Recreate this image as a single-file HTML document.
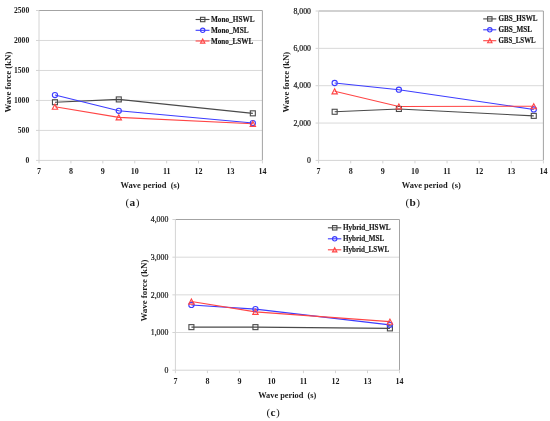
<!DOCTYPE html>
<html><head><meta charset="utf-8"><title>Wave force charts</title>
<style>
html,body{margin:0;padding:0;background:#fff;}
body{width:550px;height:421px;overflow:hidden;font-family:"Liberation Serif", serif;}
svg{display:block;font-family:"Liberation Serif", serif;filter:blur(0.35px);}
</style></head><body>
<svg width="550" height="421" viewBox="0 0 550 421">
<rect width="550" height="421" fill="#fff"/>
<line x1="39.00" y1="130.42" x2="262.40" y2="130.42" stroke="#d9d9d9" stroke-width="1"/>
<line x1="39.00" y1="100.44" x2="262.40" y2="100.44" stroke="#d9d9d9" stroke-width="1"/>
<line x1="39.00" y1="70.46" x2="262.40" y2="70.46" stroke="#d9d9d9" stroke-width="1"/>
<line x1="39.00" y1="40.48" x2="262.40" y2="40.48" stroke="#d9d9d9" stroke-width="1"/>
<path d="M39.00 10.50 H262.40 V160.40" fill="none" stroke="#a3a3a3" stroke-width="1"/>
<line x1="39.00" y1="10.50" x2="39.00" y2="160.40" stroke="#d4d4d4" stroke-width="1"/>
<line x1="39.00" y1="160.40" x2="262.40" y2="160.40" stroke="#d4d4d4" stroke-width="1"/>
<line x1="36.00" y1="160.40" x2="39.00" y2="160.40" stroke="#d4d4d4" stroke-width="1"/>
<text x="29.20" y="163.10" text-anchor="end" font-size="7.6" font-weight="bold" fill="#1a1a1a">0</text>
<line x1="36.00" y1="130.42" x2="39.00" y2="130.42" stroke="#d4d4d4" stroke-width="1"/>
<text x="29.20" y="133.12" text-anchor="end" font-size="7.6" font-weight="bold" fill="#1a1a1a">500</text>
<line x1="36.00" y1="100.44" x2="39.00" y2="100.44" stroke="#d4d4d4" stroke-width="1"/>
<text x="29.20" y="103.14" text-anchor="end" font-size="7.6" font-weight="bold" fill="#1a1a1a">1000</text>
<line x1="36.00" y1="70.46" x2="39.00" y2="70.46" stroke="#d4d4d4" stroke-width="1"/>
<text x="29.20" y="73.16" text-anchor="end" font-size="7.6" font-weight="bold" fill="#1a1a1a">1500</text>
<line x1="36.00" y1="40.48" x2="39.00" y2="40.48" stroke="#d4d4d4" stroke-width="1"/>
<text x="29.20" y="43.18" text-anchor="end" font-size="7.6" font-weight="bold" fill="#1a1a1a">2000</text>
<line x1="36.00" y1="10.50" x2="39.00" y2="10.50" stroke="#d4d4d4" stroke-width="1"/>
<text x="29.20" y="13.20" text-anchor="end" font-size="7.6" font-weight="bold" fill="#1a1a1a">2500</text>
<line x1="39.00" y1="160.40" x2="39.00" y2="163.40" stroke="#d4d4d4" stroke-width="1"/>
<text x="39.00" y="174.00" text-anchor="middle" font-size="8.0" font-weight="bold" fill="#1a1a1a">7</text>
<line x1="70.91" y1="160.40" x2="70.91" y2="163.40" stroke="#d4d4d4" stroke-width="1"/>
<text x="70.91" y="174.00" text-anchor="middle" font-size="8.0" font-weight="bold" fill="#1a1a1a">8</text>
<line x1="102.83" y1="160.40" x2="102.83" y2="163.40" stroke="#d4d4d4" stroke-width="1"/>
<text x="102.83" y="174.00" text-anchor="middle" font-size="8.0" font-weight="bold" fill="#1a1a1a">9</text>
<line x1="134.74" y1="160.40" x2="134.74" y2="163.40" stroke="#d4d4d4" stroke-width="1"/>
<text x="134.74" y="174.00" text-anchor="middle" font-size="8.0" font-weight="bold" fill="#1a1a1a">10</text>
<line x1="166.66" y1="160.40" x2="166.66" y2="163.40" stroke="#d4d4d4" stroke-width="1"/>
<text x="166.66" y="174.00" text-anchor="middle" font-size="8.0" font-weight="bold" fill="#1a1a1a">11</text>
<line x1="198.57" y1="160.40" x2="198.57" y2="163.40" stroke="#d4d4d4" stroke-width="1"/>
<text x="198.57" y="174.00" text-anchor="middle" font-size="8.0" font-weight="bold" fill="#1a1a1a">12</text>
<line x1="230.49" y1="160.40" x2="230.49" y2="163.40" stroke="#d4d4d4" stroke-width="1"/>
<text x="230.49" y="174.00" text-anchor="middle" font-size="8.0" font-weight="bold" fill="#1a1a1a">13</text>
<line x1="262.40" y1="160.40" x2="262.40" y2="163.40" stroke="#d4d4d4" stroke-width="1"/>
<text x="262.40" y="174.00" text-anchor="middle" font-size="8.0" font-weight="bold" fill="#1a1a1a">14</text>
<polyline points="54.96,102.24 118.79,99.42 252.83,113.33" fill="none" stroke="#4a4a4a" stroke-width="1.1"/>
<polyline points="54.96,95.04 118.79,110.81 252.83,123.04" fill="none" stroke="#3c3cff" stroke-width="1.1"/>
<polyline points="54.96,106.74 118.79,117.35 252.83,123.82" fill="none" stroke="#ff4545" stroke-width="1.1"/>
<rect x="52.46" y="99.74" width="5.00" height="5.00" fill="none" stroke="#4a4a4a" stroke-width="1.1"/>
<rect x="116.29" y="96.92" width="5.00" height="5.00" fill="none" stroke="#4a4a4a" stroke-width="1.1"/>
<rect x="250.33" y="110.83" width="5.00" height="5.00" fill="none" stroke="#4a4a4a" stroke-width="1.1"/>
<circle cx="54.96" cy="95.04" r="2.60" fill="none" stroke="#3c3cff" stroke-width="1.1"/>
<circle cx="118.79" cy="110.81" r="2.60" fill="none" stroke="#3c3cff" stroke-width="1.1"/>
<circle cx="252.83" cy="123.04" r="2.60" fill="none" stroke="#3c3cff" stroke-width="1.1"/>
<path d="M54.96 104.17 L57.66 109.30 L52.26 109.30 Z" fill="none" stroke="#ff4545" stroke-width="1.1" stroke-linejoin="miter"/>
<path d="M118.79 114.78 L121.49 119.91 L116.09 119.91 Z" fill="none" stroke="#ff4545" stroke-width="1.1" stroke-linejoin="miter"/>
<path d="M252.83 121.26 L255.53 126.39 L250.13 126.39 Z" fill="none" stroke="#ff4545" stroke-width="1.1" stroke-linejoin="miter"/>
<line x1="195.60" y1="19.50" x2="209.50" y2="19.50" stroke="#4a4a4a" stroke-width="1.1"/>
<rect x="200.50" y="17.30" width="4.40" height="4.40" fill="none" stroke="#4a4a4a" stroke-width="1.1"/>
<text x="211.00" y="22.00" font-size="7.2" font-weight="bold" fill="#1a1a1a" stroke="#1a1a1a" stroke-width="0.15" textLength="43.50" lengthAdjust="spacingAndGlyphs">Mono_HSWL</text>
<line x1="195.60" y1="30.30" x2="209.50" y2="30.30" stroke="#3c3cff" stroke-width="1.1"/>
<circle cx="202.70" cy="30.30" r="2.20" fill="none" stroke="#3c3cff" stroke-width="1.1"/>
<text x="211.00" y="32.80" font-size="7.2" font-weight="bold" fill="#1a1a1a" stroke="#1a1a1a" stroke-width="0.15" textLength="37.60" lengthAdjust="spacingAndGlyphs">Mono_MSL</text>
<line x1="195.60" y1="41.00" x2="209.50" y2="41.00" stroke="#ff4545" stroke-width="1.1"/>
<path d="M202.70 38.91 L204.90 43.09 L200.50 43.09 Z" fill="none" stroke="#ff4545" stroke-width="1.1" stroke-linejoin="miter"/>
<text x="211.00" y="43.50" font-size="7.2" font-weight="bold" fill="#1a1a1a" stroke="#1a1a1a" stroke-width="0.15" textLength="42.20" lengthAdjust="spacingAndGlyphs">Mono_LSWL</text>
<text x="120.60" y="187.50" font-size="8.6" font-weight="bold" fill="#1a1a1a" textLength="59.00" lengthAdjust="spacingAndGlyphs" xml:space="preserve">Wave period  (s)</text>
<text transform="translate(11.10,112.50) rotate(-90)" x="0" y="0" font-size="8.6" font-weight="bold" fill="#1a1a1a" textLength="60.80" lengthAdjust="spacingAndGlyphs">Wave force (kN)</text>
<text x="125.40" y="205.70" font-size="11.3" fill="#1a1a1a" letter-spacing="0.45">(<tspan font-weight="bold">a</tspan>)</text>
<line x1="318.60" y1="123.05" x2="543.40" y2="123.05" stroke="#d9d9d9" stroke-width="1"/>
<line x1="318.60" y1="85.70" x2="543.40" y2="85.70" stroke="#d9d9d9" stroke-width="1"/>
<line x1="318.60" y1="48.35" x2="543.40" y2="48.35" stroke="#d9d9d9" stroke-width="1"/>
<path d="M318.60 11.00 H543.40 V160.40" fill="none" stroke="#a3a3a3" stroke-width="1"/>
<line x1="318.60" y1="11.00" x2="318.60" y2="160.40" stroke="#d4d4d4" stroke-width="1"/>
<line x1="318.60" y1="160.40" x2="543.40" y2="160.40" stroke="#d4d4d4" stroke-width="1"/>
<line x1="315.60" y1="160.40" x2="318.60" y2="160.40" stroke="#d4d4d4" stroke-width="1"/>
<text x="311.00" y="163.10" text-anchor="end" font-size="7.8" font-weight="normal" fill="#1a1a1a" stroke="#1a1a1a" stroke-width="0.22">0</text>
<line x1="315.60" y1="123.05" x2="318.60" y2="123.05" stroke="#d4d4d4" stroke-width="1"/>
<text x="311.00" y="125.75" text-anchor="end" font-size="7.8" font-weight="normal" fill="#1a1a1a" stroke="#1a1a1a" stroke-width="0.22">2,000</text>
<line x1="315.60" y1="85.70" x2="318.60" y2="85.70" stroke="#d4d4d4" stroke-width="1"/>
<text x="311.00" y="88.40" text-anchor="end" font-size="7.8" font-weight="normal" fill="#1a1a1a" stroke="#1a1a1a" stroke-width="0.22">4,000</text>
<line x1="315.60" y1="48.35" x2="318.60" y2="48.35" stroke="#d4d4d4" stroke-width="1"/>
<text x="311.00" y="51.05" text-anchor="end" font-size="7.8" font-weight="normal" fill="#1a1a1a" stroke="#1a1a1a" stroke-width="0.22">6,000</text>
<line x1="315.60" y1="11.00" x2="318.60" y2="11.00" stroke="#d4d4d4" stroke-width="1"/>
<text x="311.00" y="13.70" text-anchor="end" font-size="7.8" font-weight="normal" fill="#1a1a1a" stroke="#1a1a1a" stroke-width="0.22">8,000</text>
<line x1="318.60" y1="160.40" x2="318.60" y2="163.40" stroke="#d4d4d4" stroke-width="1"/>
<text x="318.60" y="174.00" text-anchor="middle" font-size="8.0" font-weight="bold" fill="#1a1a1a">7</text>
<line x1="350.71" y1="160.40" x2="350.71" y2="163.40" stroke="#d4d4d4" stroke-width="1"/>
<text x="350.71" y="174.00" text-anchor="middle" font-size="8.0" font-weight="bold" fill="#1a1a1a">8</text>
<line x1="382.83" y1="160.40" x2="382.83" y2="163.40" stroke="#d4d4d4" stroke-width="1"/>
<text x="382.83" y="174.00" text-anchor="middle" font-size="8.0" font-weight="bold" fill="#1a1a1a">9</text>
<line x1="414.94" y1="160.40" x2="414.94" y2="163.40" stroke="#d4d4d4" stroke-width="1"/>
<text x="414.94" y="174.00" text-anchor="middle" font-size="8.0" font-weight="bold" fill="#1a1a1a">10</text>
<line x1="447.06" y1="160.40" x2="447.06" y2="163.40" stroke="#d4d4d4" stroke-width="1"/>
<text x="447.06" y="174.00" text-anchor="middle" font-size="8.0" font-weight="bold" fill="#1a1a1a">11</text>
<line x1="479.17" y1="160.40" x2="479.17" y2="163.40" stroke="#d4d4d4" stroke-width="1"/>
<text x="479.17" y="174.00" text-anchor="middle" font-size="8.0" font-weight="bold" fill="#1a1a1a">12</text>
<line x1="511.29" y1="160.40" x2="511.29" y2="163.40" stroke="#d4d4d4" stroke-width="1"/>
<text x="511.29" y="174.00" text-anchor="middle" font-size="8.0" font-weight="bold" fill="#1a1a1a">13</text>
<line x1="543.40" y1="160.40" x2="543.40" y2="163.40" stroke="#d4d4d4" stroke-width="1"/>
<text x="543.40" y="174.00" text-anchor="middle" font-size="8.0" font-weight="bold" fill="#1a1a1a">14</text>
<polyline points="334.66,111.77 398.89,108.97 533.77,115.86" fill="none" stroke="#4a4a4a" stroke-width="1.1"/>
<polyline points="334.66,83.01 398.89,89.70 533.77,109.47" fill="none" stroke="#3c3cff" stroke-width="1.1"/>
<polyline points="334.66,91.30 398.89,106.47 533.77,106.24" fill="none" stroke="#ff4545" stroke-width="1.1"/>
<rect x="332.16" y="109.27" width="5.00" height="5.00" fill="none" stroke="#4a4a4a" stroke-width="1.1"/>
<rect x="396.39" y="106.47" width="5.00" height="5.00" fill="none" stroke="#4a4a4a" stroke-width="1.1"/>
<rect x="531.27" y="113.36" width="5.00" height="5.00" fill="none" stroke="#4a4a4a" stroke-width="1.1"/>
<circle cx="334.66" cy="83.01" r="2.60" fill="none" stroke="#3c3cff" stroke-width="1.1"/>
<circle cx="398.89" cy="89.70" r="2.60" fill="none" stroke="#3c3cff" stroke-width="1.1"/>
<circle cx="533.77" cy="109.47" r="2.60" fill="none" stroke="#3c3cff" stroke-width="1.1"/>
<path d="M334.66 88.74 L337.36 93.87 L331.96 93.87 Z" fill="none" stroke="#ff4545" stroke-width="1.1" stroke-linejoin="miter"/>
<path d="M398.89 103.90 L401.59 109.03 L396.19 109.03 Z" fill="none" stroke="#ff4545" stroke-width="1.1" stroke-linejoin="miter"/>
<path d="M533.77 103.68 L536.47 108.81 L531.07 108.81 Z" fill="none" stroke="#ff4545" stroke-width="1.1" stroke-linejoin="miter"/>
<line x1="483.20" y1="18.90" x2="496.30" y2="18.90" stroke="#4a4a4a" stroke-width="1.1"/>
<rect x="487.60" y="16.70" width="4.40" height="4.40" fill="none" stroke="#4a4a4a" stroke-width="1.1"/>
<text x="498.50" y="21.40" font-size="7.2" font-weight="bold" fill="#1a1a1a" stroke="#1a1a1a" stroke-width="0.15" textLength="39.00" lengthAdjust="spacingAndGlyphs">GBS_HSWL</text>
<line x1="483.20" y1="29.80" x2="496.30" y2="29.80" stroke="#3c3cff" stroke-width="1.1"/>
<circle cx="489.80" cy="29.80" r="2.20" fill="none" stroke="#3c3cff" stroke-width="1.1"/>
<text x="498.50" y="32.30" font-size="7.2" font-weight="bold" fill="#1a1a1a" stroke="#1a1a1a" stroke-width="0.15" textLength="33.50" lengthAdjust="spacingAndGlyphs">GBS_MSL</text>
<line x1="483.20" y1="40.70" x2="496.30" y2="40.70" stroke="#ff4545" stroke-width="1.1"/>
<path d="M489.80 38.61 L492.00 42.79 L487.60 42.79 Z" fill="none" stroke="#ff4545" stroke-width="1.1" stroke-linejoin="miter"/>
<text x="498.50" y="43.20" font-size="7.2" font-weight="bold" fill="#1a1a1a" stroke="#1a1a1a" stroke-width="0.15" textLength="37.20" lengthAdjust="spacingAndGlyphs">GBS_LSWL</text>
<text x="401.80" y="187.50" font-size="8.6" font-weight="bold" fill="#1a1a1a" textLength="59.00" lengthAdjust="spacingAndGlyphs" xml:space="preserve">Wave period  (s)</text>
<text transform="translate(288.50,112.40) rotate(-90)" x="0" y="0" font-size="8.6" font-weight="bold" fill="#1a1a1a" textLength="60.50" lengthAdjust="spacingAndGlyphs">Wave force (kN)</text>
<text x="405.40" y="206.00" font-size="11.3" fill="#1a1a1a" letter-spacing="0.45">(<tspan font-weight="bold">b</tspan>)</text>
<line x1="175.40" y1="332.52" x2="399.50" y2="332.52" stroke="#d9d9d9" stroke-width="1"/>
<line x1="175.40" y1="294.85" x2="399.50" y2="294.85" stroke="#d9d9d9" stroke-width="1"/>
<line x1="175.40" y1="257.18" x2="399.50" y2="257.18" stroke="#d9d9d9" stroke-width="1"/>
<path d="M175.40 219.50 H399.50 V370.20" fill="none" stroke="#a3a3a3" stroke-width="1"/>
<line x1="175.40" y1="219.50" x2="175.40" y2="370.20" stroke="#d4d4d4" stroke-width="1"/>
<line x1="175.40" y1="370.20" x2="399.50" y2="370.20" stroke="#d4d4d4" stroke-width="1"/>
<line x1="172.40" y1="370.20" x2="175.40" y2="370.20" stroke="#d4d4d4" stroke-width="1"/>
<text x="168.30" y="372.90" text-anchor="end" font-size="7.8" font-weight="normal" fill="#1a1a1a" stroke="#1a1a1a" stroke-width="0.22">0</text>
<line x1="172.40" y1="332.52" x2="175.40" y2="332.52" stroke="#d4d4d4" stroke-width="1"/>
<text x="168.30" y="335.22" text-anchor="end" font-size="7.8" font-weight="normal" fill="#1a1a1a" stroke="#1a1a1a" stroke-width="0.22">1,000</text>
<line x1="172.40" y1="294.85" x2="175.40" y2="294.85" stroke="#d4d4d4" stroke-width="1"/>
<text x="168.30" y="297.55" text-anchor="end" font-size="7.8" font-weight="normal" fill="#1a1a1a" stroke="#1a1a1a" stroke-width="0.22">2,000</text>
<line x1="172.40" y1="257.18" x2="175.40" y2="257.18" stroke="#d4d4d4" stroke-width="1"/>
<text x="168.30" y="259.88" text-anchor="end" font-size="7.8" font-weight="normal" fill="#1a1a1a" stroke="#1a1a1a" stroke-width="0.22">3,000</text>
<line x1="172.40" y1="219.50" x2="175.40" y2="219.50" stroke="#d4d4d4" stroke-width="1"/>
<text x="168.30" y="222.20" text-anchor="end" font-size="7.8" font-weight="normal" fill="#1a1a1a" stroke="#1a1a1a" stroke-width="0.22">4,000</text>
<line x1="175.40" y1="370.20" x2="175.40" y2="373.20" stroke="#d4d4d4" stroke-width="1"/>
<text x="175.40" y="383.80" text-anchor="middle" font-size="8.0" font-weight="bold" fill="#1a1a1a">7</text>
<line x1="207.41" y1="370.20" x2="207.41" y2="373.20" stroke="#d4d4d4" stroke-width="1"/>
<text x="207.41" y="383.80" text-anchor="middle" font-size="8.0" font-weight="bold" fill="#1a1a1a">8</text>
<line x1="239.43" y1="370.20" x2="239.43" y2="373.20" stroke="#d4d4d4" stroke-width="1"/>
<text x="239.43" y="383.80" text-anchor="middle" font-size="8.0" font-weight="bold" fill="#1a1a1a">9</text>
<line x1="271.44" y1="370.20" x2="271.44" y2="373.20" stroke="#d4d4d4" stroke-width="1"/>
<text x="271.44" y="383.80" text-anchor="middle" font-size="8.0" font-weight="bold" fill="#1a1a1a">10</text>
<line x1="303.46" y1="370.20" x2="303.46" y2="373.20" stroke="#d4d4d4" stroke-width="1"/>
<text x="303.46" y="383.80" text-anchor="middle" font-size="8.0" font-weight="bold" fill="#1a1a1a">11</text>
<line x1="335.47" y1="370.20" x2="335.47" y2="373.20" stroke="#d4d4d4" stroke-width="1"/>
<text x="335.47" y="383.80" text-anchor="middle" font-size="8.0" font-weight="bold" fill="#1a1a1a">12</text>
<line x1="367.49" y1="370.20" x2="367.49" y2="373.20" stroke="#d4d4d4" stroke-width="1"/>
<text x="367.49" y="383.80" text-anchor="middle" font-size="8.0" font-weight="bold" fill="#1a1a1a">13</text>
<line x1="399.50" y1="370.20" x2="399.50" y2="373.20" stroke="#d4d4d4" stroke-width="1"/>
<text x="399.50" y="383.80" text-anchor="middle" font-size="8.0" font-weight="bold" fill="#1a1a1a">14</text>
<polyline points="191.41,327.14 255.44,327.14 389.90,328.38" fill="none" stroke="#4a4a4a" stroke-width="1.1"/>
<polyline points="191.41,304.95 255.44,309.09 389.90,324.84" fill="none" stroke="#3c3cff" stroke-width="1.1"/>
<polyline points="191.41,301.56 255.44,311.84 389.90,321.64" fill="none" stroke="#ff4545" stroke-width="1.1"/>
<rect x="188.91" y="324.64" width="5.00" height="5.00" fill="none" stroke="#4a4a4a" stroke-width="1.1"/>
<rect x="252.94" y="324.64" width="5.00" height="5.00" fill="none" stroke="#4a4a4a" stroke-width="1.1"/>
<rect x="387.40" y="325.88" width="5.00" height="5.00" fill="none" stroke="#4a4a4a" stroke-width="1.1"/>
<circle cx="191.41" cy="304.95" r="2.60" fill="none" stroke="#3c3cff" stroke-width="1.1"/>
<circle cx="255.44" cy="309.09" r="2.60" fill="none" stroke="#3c3cff" stroke-width="1.1"/>
<circle cx="389.90" cy="324.84" r="2.60" fill="none" stroke="#3c3cff" stroke-width="1.1"/>
<path d="M191.41 298.99 L194.11 304.12 L188.71 304.12 Z" fill="none" stroke="#ff4545" stroke-width="1.1" stroke-linejoin="miter"/>
<path d="M255.44 309.28 L258.14 314.41 L252.74 314.41 Z" fill="none" stroke="#ff4545" stroke-width="1.1" stroke-linejoin="miter"/>
<path d="M389.90 319.07 L392.60 324.20 L387.20 324.20 Z" fill="none" stroke="#ff4545" stroke-width="1.1" stroke-linejoin="miter"/>
<line x1="327.90" y1="227.80" x2="341.30" y2="227.80" stroke="#4a4a4a" stroke-width="1.1"/>
<rect x="332.50" y="225.60" width="4.40" height="4.40" fill="none" stroke="#4a4a4a" stroke-width="1.1"/>
<text x="342.90" y="230.30" font-size="7.2" font-weight="bold" fill="#1a1a1a" stroke="#1a1a1a" stroke-width="0.15" textLength="47.80" lengthAdjust="spacingAndGlyphs">Hybrid_HSWL</text>
<line x1="327.90" y1="238.80" x2="341.30" y2="238.80" stroke="#3c3cff" stroke-width="1.1"/>
<circle cx="334.70" cy="238.80" r="2.20" fill="none" stroke="#3c3cff" stroke-width="1.1"/>
<text x="342.90" y="241.30" font-size="7.2" font-weight="bold" fill="#1a1a1a" stroke="#1a1a1a" stroke-width="0.15" textLength="41.30" lengthAdjust="spacingAndGlyphs">Hybrid_MSL</text>
<line x1="327.90" y1="249.80" x2="341.30" y2="249.80" stroke="#ff4545" stroke-width="1.1"/>
<path d="M334.70 247.71 L336.90 251.89 L332.50 251.89 Z" fill="none" stroke="#ff4545" stroke-width="1.1" stroke-linejoin="miter"/>
<text x="342.90" y="252.30" font-size="7.2" font-weight="bold" fill="#1a1a1a" stroke="#1a1a1a" stroke-width="0.15" textLength="46.30" lengthAdjust="spacingAndGlyphs">Hybrid_LSWL</text>
<text x="258.20" y="397.50" font-size="8.6" font-weight="bold" fill="#1a1a1a" textLength="58.20" lengthAdjust="spacingAndGlyphs" xml:space="preserve">Wave period  (s)</text>
<text transform="translate(147.00,321.60) rotate(-90)" x="0" y="0" font-size="8.6" font-weight="bold" fill="#1a1a1a" textLength="62.00" lengthAdjust="spacingAndGlyphs">Wave force (kN)</text>
<text x="266.40" y="416.00" font-size="11.3" fill="#1a1a1a" letter-spacing="0.45">(<tspan font-weight="bold">c</tspan>)</text>
</svg>
</body></html>
